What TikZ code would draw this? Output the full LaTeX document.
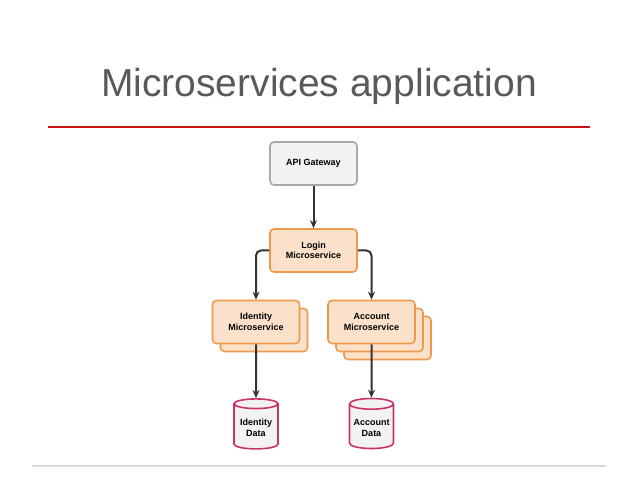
\documentclass[tikz,border=0pt]{standalone}
\usepackage{fontspec}
\setmainfont{Liberation Sans}
\usetikzlibrary{arrows.meta,positioning,shapes.geometric}

\definecolor{boxgray}{HTML}{F2F2F2}
\definecolor{linegray}{HTML}{A8A8A8}
\definecolor{svcfill}{HTML}{FCE1CA}
\definecolor{svcdraw}{HTML}{EE9A4D}
\definecolor{dbdraw}{HTML}{C8336A}
\definecolor{titlered}{HTML}{CC1111}

\begin{document}
\begin{tikzpicture}[x=1pt,y=-1pt,>={Stealth[length=8pt,width=7pt]},
                    semithick,
  box/.style={rectangle,rounded corners=4pt,line width=1.6pt,minimum width=87pt,
              minimum height=43pt,align=center,font=\fontsize{9}{10.5}\selectfont\bfseries},
  gate/.style={box,fill=boxgray,draw=linegray},
  svc/.style={box,fill=svcfill,draw=svcdraw},
  db/.style={cylinder,shape border rotate=90,aspect=0.25,draw=dbdraw,fill=boxgray,
             line width=1.6pt,minimum width=44pt,minimum height=50pt,align=center,
             font=\fontsize{9}{10.5}\selectfont\bfseries},
  link/.style={->,line width=2pt,draw=black!80,rounded corners=5pt}]
  \useasboundingbox (0,0) rectangle (638,478);

  \node[text=black!65,font=\fontsize{39}{42}\selectfont] (title) at (319,86) {Microservices application};
  \draw[titlered,line width=2.5pt] (48,127) -- (590,127);
  \draw[black!15,line width=2.5pt] (32,466) -- (606,466);

  \node[gate] (api)   at (313.5,163.5) {API Gateway};
  \node[svc]  (login) at (313.5,250.5) {Login\\Microservice};

  % stacked copies behind the services
  \node[svc] (identb)  at (264,330) {};
  \node[svc] (acctc)   at (387.5,338) {};
  \node[svc] (acctb)   at (379.5,330) {};
  \node[svc]  (ident) at (256,322) {Identity\\Microservice};
  \node[svc]  (acct)  at (371.5,322) {Account\\Microservice};

  \node[db] (identdb) at (256,428) {Identity\\Data};
  \node[db] (acctdb)  at (371.5,428) {Account\\Data};

  \draw[link] (api) -- (login);
  \draw[link] (login.west) -| (ident.north);
  \draw[link] (login.east) -| (acct.north);
  \draw[link] (ident) -- (identdb);
  \draw[link] (acct) -- (acctdb);
\end{tikzpicture}
\end{document}
